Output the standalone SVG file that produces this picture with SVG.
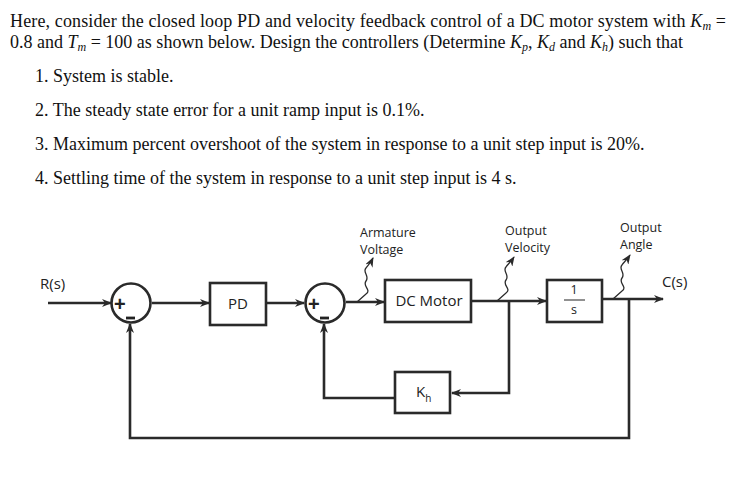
<svg xmlns="http://www.w3.org/2000/svg" width="737" height="482" viewBox="0 0 737 482">
<style>
.t{font-family:"Liberation Serif",serif;font-size:18px;fill:#111}
.d{font-family:"Open Sans","Liberation Sans",sans-serif;font-size:15px;fill:#222}
.s{font-family:"Open Sans","Liberation Sans",sans-serif;font-size:12.5px;fill:#222}
.ln{stroke:#2a2a2a;stroke-width:2.6;fill:none}
.bx{stroke:#2a2a2a;stroke-width:2.6;fill:#fff}
.w{stroke:#2a2a2a;stroke-width:1.3;fill:none}
</style>
<defs>
<marker id="a" markerWidth="10" markerHeight="8" refX="9" refY="4" orient="auto" markerUnits="userSpaceOnUse"><path d="M0,0 L10,4 L0,8 L3,4 Z" fill="#2a2a2a"/></marker>
<marker id="b" markerWidth="10" markerHeight="8" refX="9" refY="4" orient="auto" markerUnits="userSpaceOnUse"><path d="M0,0 L10,4 L0,8 L3,4 Z" fill="#2a2a2a"/></marker>
</defs>
<rect width="737" height="482" fill="#fff"/>
<g id="text">
<text class="t" x="10" y="27" textLength="716" lengthAdjust="spacing">Here, consider the closed loop PD and velocity feedback control of a DC motor system with <tspan font-style="italic">K<tspan font-size="12" dy="3">m</tspan></tspan><tspan dy="-3"> =</tspan></text>
<text class="t" x="10" y="48" textLength="673" lengthAdjust="spacing">0.8 and <tspan font-style="italic">T<tspan font-size="12" dy="3">m</tspan></tspan><tspan dy="-3"> = 100 as shown below. Design the controllers (Determine </tspan><tspan font-style="italic">K<tspan font-size="12" dy="3">p</tspan></tspan><tspan dy="-3">, </tspan><tspan font-style="italic">K<tspan font-size="12" dy="3">d</tspan></tspan><tspan dy="-3"> and </tspan><tspan font-style="italic">K<tspan font-size="12" dy="3">h</tspan></tspan><tspan dy="-3">) such that</tspan></text>
<text class="t" x="35" y="82">1.  System is stable.</text>
<text class="t" x="35" y="116">2.  The steady state error for a unit ramp input is 0.1%.</text>
<text class="t" x="35" y="150">3.  Maximum percent overshoot of the system in response to a unit step input is 20%.</text>
<text class="t" x="35" y="184">4.  Settling time of the system in response to a unit step input is 4 s.</text>
</g>
<g id="connectors">
<line class="ln" x1="48" y1="303" x2="111" y2="303" marker-end="url(#a)"/>
<line class="ln" x1="152" y1="303" x2="209" y2="303" marker-end="url(#a)"/>
<line class="ln" x1="266" y1="303" x2="304" y2="303" marker-end="url(#a)"/>
<line class="ln" x1="346" y1="302" x2="384" y2="302" marker-end="url(#a)"/>
<line class="ln" x1="471" y1="301" x2="546" y2="301" marker-end="url(#a)"/>
<line class="ln" x1="602" y1="299" x2="663" y2="299" marker-end="url(#a)"/>
<polyline class="ln" points="509,301 509,393 452,393" marker-end="url(#a)"/>
<polyline class="ln" points="395,398 324,398 324,324" marker-end="url(#a)"/>
<polyline class="ln" points="629,299 629,438 130,438 130,324" marker-end="url(#a)"/>
<path class="w" d="M357,302 L366,294 C372,290 362,286 366,281 C370,276 362,272 366,268 C368,265 370,264 373,258" marker-end="url(#b)"/>
<path class="w" d="M497,301 L506,293 C512,289 502,285 506,280 C510,275 502,271 506,267 C508,264 510,263 514,257" marker-end="url(#b)"/>
<path class="w" d="M613,299 L622,291 C628,287 618,283 622,278 C626,273 618,269 622,265 C624,262 626,261 630,255" marker-end="url(#b)"/>
</g>
<g id="sum1">
<circle cx="131" cy="303" r="19.5" class="bx"/>
<text x="114" y="311" font-family="Liberation Sans,sans-serif" font-weight="bold" font-size="20" fill="#222">+</text>
<line x1="126" y1="318" x2="135" y2="318" stroke="#222" stroke-width="2.8"/>
</g>
<g id="pd">
<rect x="210" y="283" width="56" height="42" class="bx"/>
<text class="d" x="238" y="309" text-anchor="middle">PD</text>
</g>
<g id="sum2">
<circle cx="325" cy="303" r="19.5" class="bx"/>
<text x="308" y="311" font-family="Liberation Sans,sans-serif" font-weight="bold" font-size="20" fill="#222">+</text>
<line x1="320" y1="318" x2="329" y2="318" stroke="#222" stroke-width="2.8"/>
</g>
<g id="dcmotor">
<rect x="385" y="280" width="86" height="42" class="bx"/>
<text class="d" x="429" y="306" text-anchor="middle" font-size="16.5">DC Motor</text>
</g>
<g id="integrator">
<rect x="547" y="280" width="55" height="42" class="bx"/>
<text class="s" x="574" y="294" text-anchor="middle" font-size="10">1</text>
<line x1="564" y1="300" x2="585" y2="300" stroke="#222" stroke-width="1"/>
<text class="s" x="574" y="314" text-anchor="middle" font-size="10">s</text>
</g>
<g id="kh">
<rect x="395" y="372" width="55" height="41" class="bx"/>
<text class="d" x="416" y="397">K<tspan font-size="10" dy="5">h</tspan></text>
</g>
<g id="labels">
<text class="d" x="40" y="289">R(s)</text>
<text class="d" x="662" y="287">C(s)</text>
<text class="s" x="360" y="237">Armature</text>
<text class="s" x="360" y="254">Voltage</text>
<text class="s" x="505" y="235">Output</text>
<text class="s" x="505" y="252">Velocity</text>
<text class="s" x="620" y="232">Output</text>
<text class="s" x="620" y="249">Angle</text>
</g>
</svg>
